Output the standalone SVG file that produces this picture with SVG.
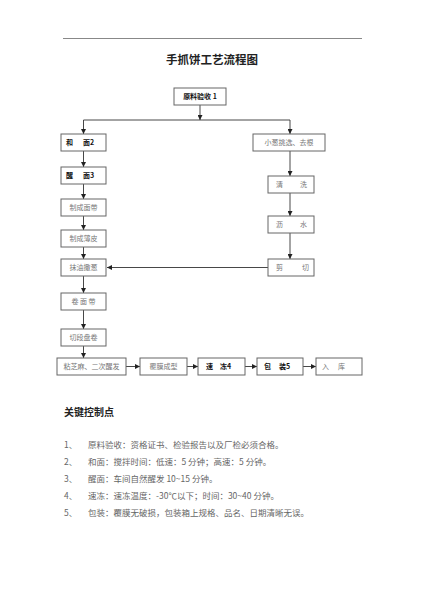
<svg xmlns="http://www.w3.org/2000/svg" width="424" height="600" viewBox="0 0 424 600">
<defs>
<marker id="ah" viewBox="0 0 6 6" refX="6" refY="3" markerWidth="5" markerHeight="5" orient="auto" markerUnits="userSpaceOnUse">
<path d="M0,0 L6,3 L0,6 z" fill="#222"/>
</marker>
<style>
.box{fill:#fff;stroke:#666;stroke-width:1}
.t{font-family:"Noto Sans CJK SC","Noto Sans",sans-serif;font-size:7px;fill:#777}
.b{font-family:"Noto Sans CJK SC","Noto Sans",sans-serif;font-size:7px;fill:#111;font-weight:bold}
.c{fill:none;stroke:#333;stroke-width:0.9}
.ca{fill:none;stroke:#333;stroke-width:0.9;marker-end:url(#ah)}
.li{font-family:"Noto Sans CJK SC","Noto Sans",sans-serif;font-size:8.5px;fill:#666}
</style>
</defs>
<rect width="424" height="600" fill="#fff"/>
<line x1="63" y1="38.5" x2="362" y2="38.5" stroke="#888" stroke-width="1"/>
<text x="212" y="64" text-anchor="middle" font-family="Noto Sans CJK SC, sans-serif" font-size="11.5" font-weight="bold" fill="#222">手抓饼工艺流程图</text>

<g id="connectors">
<path class="ca" d="M200,105 V120"/>
<path class="c" d="M83.5,120 H290"/>
<path class="ca" d="M83.5,120 V134"/>
<path class="ca" d="M290,120 V134"/>
<path class="ca" d="M83.5,151 V167"/>
<path class="ca" d="M83.5,184 V199"/>
<path class="ca" d="M83.5,216 V230"/>
<path class="ca" d="M83.5,247 V259"/>
<path class="ca" d="M83.5,276 V293"/>
<path class="ca" d="M83.5,310 V329"/>
<path class="ca" d="M83.5,346 V358"/>
<path class="ca" d="M290,151 V176"/>
<path class="ca" d="M290,193 V216"/>
<path class="ca" d="M290,233 V259"/>
<path class="ca" d="M268,267.5 H107"/>
<path class="ca" d="M126,366.5 H140"/>
<path class="ca" d="M187,366.5 H198"/>
<path class="ca" d="M245,366.5 H257"/>
<path class="ca" d="M303,366.5 H316"/>
</g>

<g id="n1"><rect class="box" x="174" y="88" width="52" height="17"/><text class="b" x="200" y="99" text-anchor="middle">原料验收 1</text></g>
<g id="n2"><rect class="box" x="61" y="134" width="45" height="17"/><text class="b" x="66" y="145">和<tspan x="83">面2</tspan></text></g>
<g id="n3"><rect class="box" x="61" y="167" width="45" height="17"/><text class="b" x="66" y="178">醒<tspan x="83">面3</tspan></text></g>
<g id="n4"><rect class="box" x="61" y="199" width="45" height="17"/><text class="t" x="83.5" y="210" text-anchor="middle">制成面带</text></g>
<g id="n5"><rect class="box" x="61" y="230" width="45" height="17"/><text class="t" x="83.5" y="241" text-anchor="middle">制成薄皮</text></g>
<g id="n6"><rect class="box" x="61" y="259" width="45" height="17"/><text class="t" x="83.5" y="270" text-anchor="middle">抹油撒葱</text></g>
<g id="n7"><rect class="box" x="61" y="293" width="45" height="17"/><text class="t" x="83.5" y="304" text-anchor="middle">卷 面 带</text></g>
<g id="n8"><rect class="box" x="61" y="329" width="45" height="17"/><text class="t" x="83.5" y="340" text-anchor="middle">切段盘卷</text></g>
<g id="n9"><rect class="box" x="57" y="358" width="69" height="17"/><text class="t" x="91.5" y="369" text-anchor="middle">粘芝麻、二次醒发</text></g>
<g id="n10"><rect class="box" x="140" y="358" width="47" height="17"/><text class="t" x="163.5" y="369" text-anchor="middle">覆膜成型</text></g>
<g id="n11"><rect class="box" x="198" y="358" width="47" height="17"/><text class="b" x="206" y="369">速<tspan x="220">冻4</tspan></text></g>
<g id="n12"><rect class="box" x="257" y="358" width="46" height="17"/><text class="b" x="264" y="369">包<tspan x="279">装5</tspan></text></g>
<g id="n13"><rect class="box" x="316" y="358" width="46" height="17"/><text class="t" x="322" y="369">入<tspan x="338">库</tspan></text></g>
<g id="r1"><rect class="box" x="253" y="134" width="72" height="17"/><text class="t" x="289" y="145" text-anchor="middle">小葱挑选、去根</text></g>
<g id="r2"><rect class="box" x="268" y="176" width="46" height="17"/><text class="t" x="276" y="187">清<tspan x="300">洗</tspan></text></g>
<g id="r3"><rect class="box" x="268" y="216" width="46" height="17"/><text class="t" x="276" y="227">沥<tspan x="300">水</tspan></text></g>
<g id="r4"><rect class="box" x="268" y="259" width="46" height="17"/><text class="t" x="276" y="270">剪<tspan x="302">切</tspan></text></g>

<text x="64" y="416" font-family="Noto Sans CJK SC, sans-serif" font-size="10" font-weight="bold" fill="#222">关键控制点</text>
<g id="list">
<text class="li" x="64" y="448">1、</text><text class="li" x="88" y="448">原料验收：资格证书、检验报告以及厂检必须合格。</text>
<text class="li" x="64" y="465">2、</text><text class="li" x="88" y="465">和面：搅拌时间：低速：5 分钟；高速：5 分钟。</text>
<text class="li" x="64" y="482">3、</text><text class="li" x="88" y="482">醒面：车间自然醒发 10~15 分钟。</text>
<text class="li" x="64" y="499">4、</text><text class="li" x="88" y="499">速冻：速冻温度：-30℃以下；时间：30~40 分钟。</text>
<text class="li" x="64" y="516">5、</text><text class="li" x="88" y="516">包装：覆膜无破损，包装箱上规格、品名、日期清晰无误。</text>
</g>
</svg>
